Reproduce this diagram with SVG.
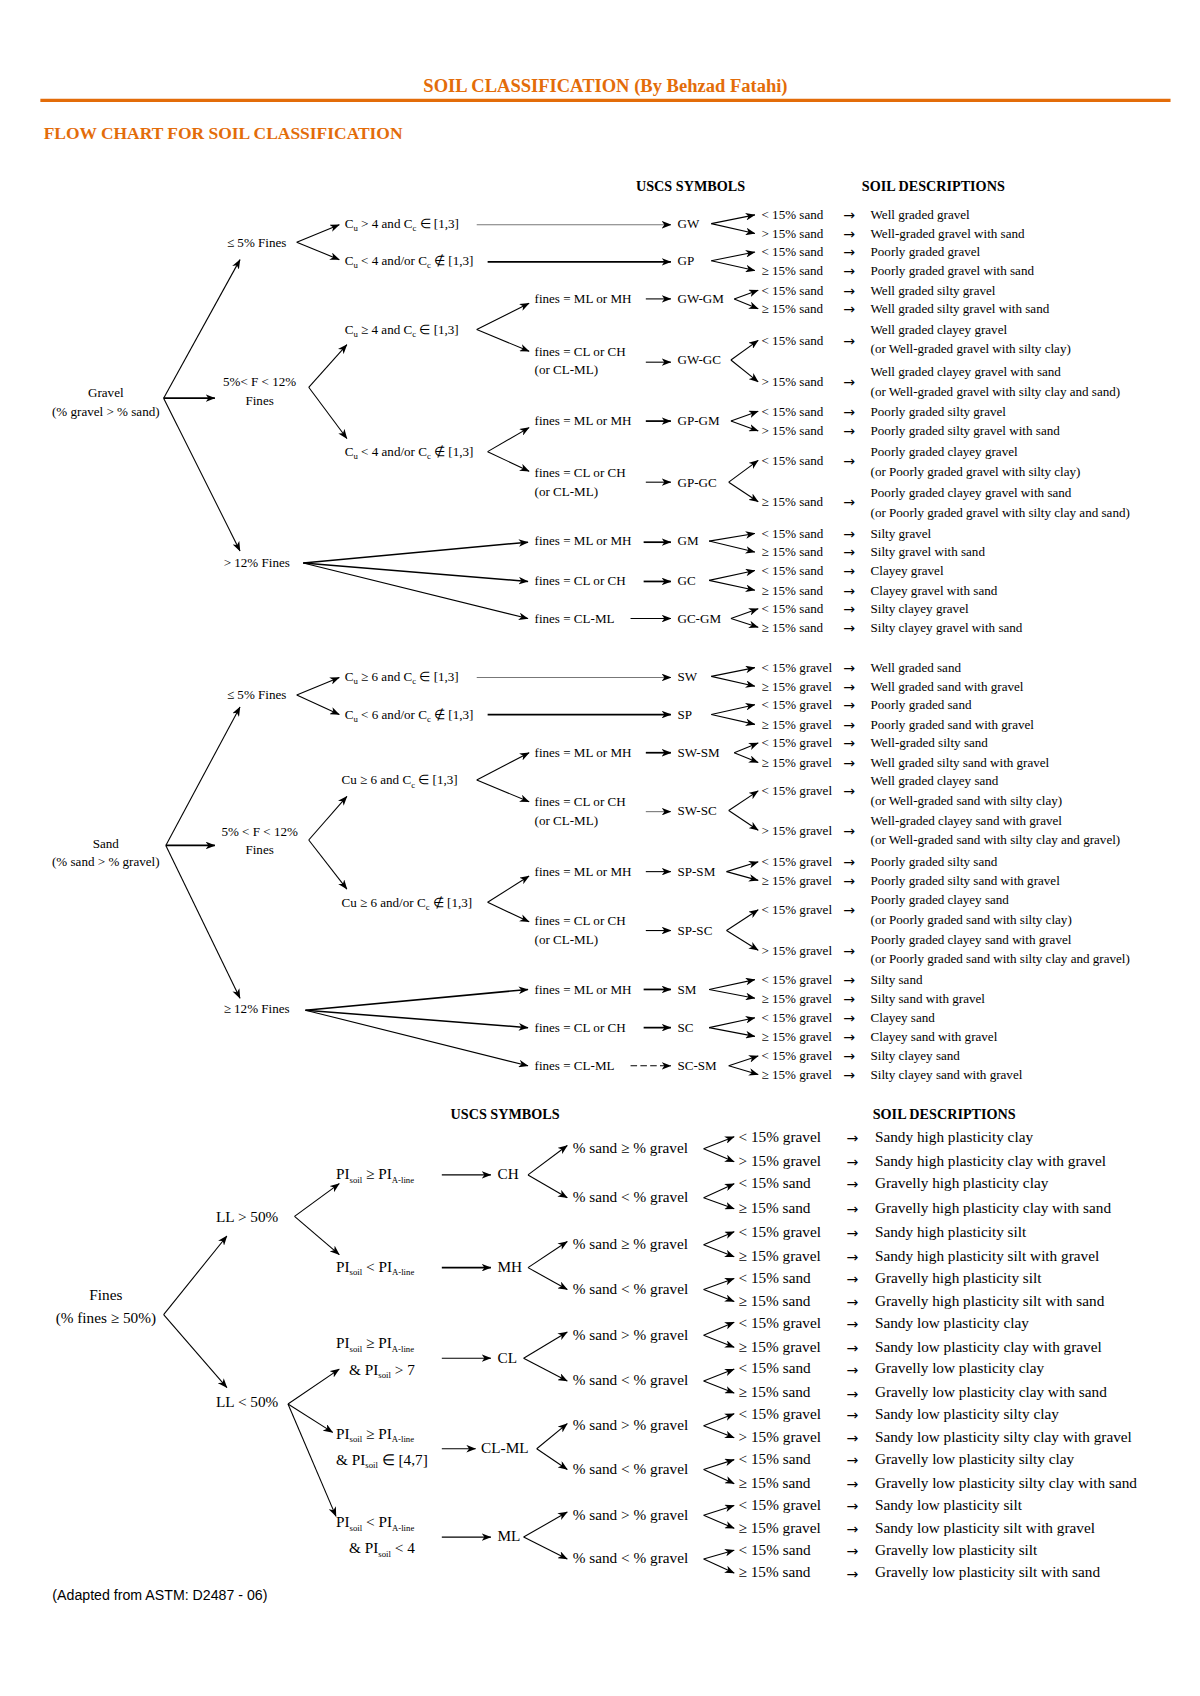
<svg xmlns="http://www.w3.org/2000/svg" width="1200" height="1696" viewBox="0 0 1200 1696">
<defs>
<marker id="ah" markerWidth="9" markerHeight="7" refX="8.5" refY="3.5" orient="auto" markerUnits="userSpaceOnUse"><path d="M0,0 L9,3.5 L0,7 L2.5,3.5 z" fill="#000"/></marker>
<style>
text{font-family:"Liberation Serif","Times New Roman",serif;fill:#000}
.t{font-size:12px}
.f{font-size:14px}
.c{text-anchor:middle}
.h{font-weight:bold;font-size:13px}
.o{fill:#e36c09;font-weight:bold}
.s{font-size:8px}
.r{font-family:"DejaVu Sans",sans-serif;font-size:13px}
line,polyline{stroke:#000;stroke-width:1;fill:none}
.a{marker-end:url(#ah)}
.sans{font-family:"Liberation Sans",Arial,sans-serif}
</style>
</defs>
<rect width="1200" height="1696" fill="#fff"/>
<g transform="scale(1.090909)">
<g id="title">
<text class="o c" x="555" y="84" font-size="17">SOIL CLASSIFICATION (By Behzad Fatahi)</text>
<line x1="37" y1="92" x2="1073" y2="92" style="stroke:#e36c09;stroke-width:3"/>
<text class="o" x="40" y="127" font-size="16">FLOW CHART FOR SOIL CLASSIFICATION</text>
<text class="h" x="583" y="175">USCS SYMBOLS</text>
<text class="h" x="790" y="175">SOIL DESCRIPTIONS</text>
<text class="h" x="413" y="1026" font-size="14">USCS SYMBOLS</text>
<text class="h" x="800" y="1026" font-size="14">SOIL DESCRIPTIONS</text>
<text class="sans" x="48" y="1467" font-size="13">(Adapted from ASTM: D2487 - 06)</text>
</g>

<g id="gravel" class="t">
<text class="t c" x="97" y="364">Gravel</text>
<text class="t c" x="97" y="381">(% gravel &gt; % sand)</text>
<text class="t" x="208" y="226">≤ 5% Fines</text>
<text class="t" x="316" y="209">C<tspan class="s" dy="3">u</tspan><tspan dy="-3"> &gt; 4 and C</tspan><tspan class="s" dy="3">c</tspan><tspan dy="-3"> ∈ [1,3]</tspan></text>
<text class="t" x="316" y="243">C<tspan class="s" dy="3">u</tspan><tspan dy="-3"> &lt; 4 and/or C</tspan><tspan class="s" dy="3">c</tspan><tspan dy="-3"> ∉ [1,3]</tspan></text>
<text class="t c" x="238" y="354">5%&lt; F &lt; 12%</text>
<text class="t c" x="238" y="371">Fines</text>
<text class="t" x="316" y="306">C<tspan class="s" dy="3">u</tspan><tspan dy="-3"> ≥ 4 and C</tspan><tspan class="s" dy="3">c</tspan><tspan dy="-3"> ∈ [1,3]</tspan></text>
<text class="t" x="316" y="418">C<tspan class="s" dy="3">u</tspan><tspan dy="-3"> &lt; 4 and/or C</tspan><tspan class="s" dy="3">c</tspan><tspan dy="-3"> ∉ [1,3]</tspan></text>
<text class="t" x="490" y="278">fines = ML or MH</text>
<text class="t" x="490" y="326">fines = CL or CH</text>
<text class="t" x="490" y="343">(or CL-ML)</text>
<text class="t" x="490" y="390">fines = ML or MH</text>
<text class="t" x="490" y="437">fines = CL or CH</text>
<text class="t" x="490" y="455">(or CL-ML)</text>
<text class="t" x="205" y="520">&gt; 12% Fines</text>
<text class="t" x="490" y="500">fines = ML or MH</text>
<text class="t" x="490" y="536">fines = CL or CH</text>
<text class="t" x="490" y="571">fines = CL-ML</text>
<text class="t" x="621" y="209">GW</text>
<text class="t" x="621" y="243">GP</text>
<text class="t" x="621" y="278">GW-GM</text>
<text class="t" x="621" y="334">GW-GC</text>
<text class="t" x="621" y="390">GP-GM</text>
<text class="t" x="621" y="446">GP-GC</text>
<text class="t" x="621" y="500">GM</text>
<text class="t" x="621" y="536">GC</text>
<text class="t" x="621" y="571">GC-GM</text>
</g>

<g id="sand" class="t">
<text class="t c" x="97" y="777">Sand</text>
<text class="t c" x="97" y="794">(% sand &gt; % gravel)</text>
<text class="t" x="208" y="641">≤ 5% Fines</text>
<text class="t" x="316" y="624">C<tspan class="s" dy="3">u</tspan><tspan dy="-3"> ≥ 6 and C</tspan><tspan class="s" dy="3">c</tspan><tspan dy="-3"> ∈ [1,3]</tspan></text>
<text class="t" x="316" y="659">C<tspan class="s" dy="3">u</tspan><tspan dy="-3"> &lt; 6 and/or C</tspan><tspan class="s" dy="3">c</tspan><tspan dy="-3"> ∉ [1,3]</tspan></text>
<text class="t c" x="238" y="766">5% &lt; F &lt; 12%</text>
<text class="t c" x="238" y="783">Fines</text>
<text class="t" x="313" y="719">Cu ≥ 6  and C<tspan class="s" dy="3">c</tspan><tspan dy="-3"> ∈ [1,3]</tspan></text>
<text class="t" x="313" y="831">Cu ≥ 6   and/or C<tspan class="s" dy="3">c</tspan><tspan dy="-3"> ∉ [1,3]</tspan></text>
<text class="t" x="490" y="694">fines = ML or MH</text>
<text class="t" x="490" y="739">fines = CL or CH</text>
<text class="t" x="490" y="756">(or CL-ML)</text>
<text class="t" x="490" y="803">fines = ML or MH</text>
<text class="t" x="490" y="848">fines = CL or CH</text>
<text class="t" x="490" y="865">(or CL-ML)</text>
<text class="t" x="205" y="929">≥ 12% Fines</text>
<text class="t" x="490" y="911">fines = ML or MH</text>
<text class="t" x="490" y="946">fines = CL or CH</text>
<text class="t" x="490" y="981">fines = CL-ML</text>
<text class="t" x="621" y="624">SW</text>
<text class="t" x="621" y="659">SP</text>
<text class="t" x="621" y="694">SW-SM</text>
<text class="t" x="621" y="747">SW-SC</text>
<text class="t" x="621" y="803">SP-SM</text>
<text class="t" x="621" y="857">SP-SC</text>
<text class="t" x="621" y="911">SM</text>
<text class="t" x="621" y="946">SC</text>
<text class="t" x="621" y="981">SC-SM</text>
</g>

<g id="coarse-descriptions" class="t">
<text x="698" y="201">&lt; 15% sand</text><text class="r" x="773" y="202">→</text><text x="798" y="201">Well graded gravel</text>
<text x="698" y="218">&gt; 15% sand</text><text class="r" x="773" y="219">→</text><text x="798" y="218">Well-graded gravel with sand</text>
<text x="698" y="235">&lt; 15% sand</text><text class="r" x="773" y="236">→</text><text x="798" y="235">Poorly graded gravel</text>
<text x="698" y="252">≥ 15% sand</text><text class="r" x="773" y="253">→</text><text x="798" y="252">Poorly graded gravel with sand</text>
<text x="698" y="270">&lt; 15% sand</text><text class="r" x="773" y="271">→</text><text x="798" y="270">Well graded silty gravel</text>
<text x="698" y="287">≥ 15% sand</text><text class="r" x="773" y="288">→</text><text x="798" y="287">Well graded silty gravel with sand</text>
<text x="698" y="316">&lt; 15% sand</text><text class="r" x="773" y="317">→</text><text x="798" y="306">Well graded clayey gravel</text><text x="798" y="324">(or Well-graded gravel with silty clay)</text>
<text x="698" y="354">&gt; 15% sand</text><text class="r" x="773" y="355">→</text><text x="798" y="345">Well graded clayey gravel with sand</text><text x="798" y="363">(or Well-graded gravel with silty clay and sand)</text>
<text x="698" y="381">&lt; 15% sand</text><text class="r" x="773" y="382">→</text><text x="798" y="381">Poorly graded silty gravel</text>
<text x="698" y="399">&gt; 15% sand</text><text class="r" x="773" y="400">→</text><text x="798" y="399">Poorly graded silty gravel with sand</text>
<text x="698" y="426">&lt; 15% sand</text><text class="r" x="773" y="427">→</text><text x="798" y="418">Poorly graded clayey gravel</text><text x="798" y="436">(or Poorly graded gravel with silty clay)</text>
<text x="698" y="464">≥ 15% sand</text><text class="r" x="773" y="465">→</text><text x="798" y="456">Poorly graded clayey gravel with sand</text><text x="798" y="474">(or Poorly graded gravel with silty clay and sand)</text>
<text x="698" y="493">&lt; 15% sand</text><text class="r" x="773" y="494">→</text><text x="798" y="493">Silty gravel</text>
<text x="698" y="510">≥ 15% sand</text><text class="r" x="773" y="511">→</text><text x="798" y="510">Silty gravel with sand</text>
<text x="698" y="527">&lt; 15% sand</text><text class="r" x="773" y="528">→</text><text x="798" y="527">Clayey gravel</text>
<text x="698" y="545">≥ 15% sand</text><text class="r" x="773" y="546">→</text><text x="798" y="545">Clayey gravel with sand</text>
<text x="698" y="562">&lt; 15% sand</text><text class="r" x="773" y="563">→</text><text x="798" y="562">Silty clayey gravel</text>
<text x="698" y="579">≥ 15% sand</text><text class="r" x="773" y="580">→</text><text x="798" y="579">Silty clayey gravel with sand</text>
<text x="698" y="616">&lt; 15% gravel</text><text class="r" x="773" y="617">→</text><text x="798" y="616">Well graded sand</text>
<text x="698" y="633">≥ 15% gravel</text><text class="r" x="773" y="634">→</text><text x="798" y="633">Well graded sand with gravel</text>
<text x="698" y="650">&lt; 15% gravel</text><text class="r" x="773" y="651">→</text><text x="798" y="650">Poorly graded sand</text>
<text x="698" y="668">≥ 15% gravel</text><text class="r" x="773" y="669">→</text><text x="798" y="668">Poorly graded sand with gravel</text>
<text x="698" y="685">&lt; 15% gravel</text><text class="r" x="773" y="686">→</text><text x="798" y="685">Well-graded silty sand</text>
<text x="698" y="703">≥ 15% gravel</text><text class="r" x="773" y="704">→</text><text x="798" y="703">Well graded silty sand with gravel</text>
<text x="698" y="729">&lt; 15% gravel</text><text class="r" x="773" y="730">→</text><text x="798" y="720">Well graded clayey sand</text><text x="798" y="738">(or Well-graded sand with silty clay)</text>
<text x="698" y="765">&gt; 15% gravel</text><text class="r" x="773" y="766">→</text><text x="798" y="756">Well-graded clayey sand with gravel</text><text x="798" y="774">(or Well-graded sand with silty clay and gravel)</text>
<text x="698" y="794">&lt; 15% gravel</text><text class="r" x="773" y="795">→</text><text x="798" y="794">Poorly graded silty sand</text>
<text x="698" y="811">≥ 15% gravel</text><text class="r" x="773" y="812">→</text><text x="798" y="811">Poorly graded silty sand with gravel</text>
<text x="698" y="838">&lt; 15% gravel</text><text class="r" x="773" y="839">→</text><text x="798" y="829">Poorly graded clayey sand</text><text x="798" y="847">(or Poorly graded sand with silty clay)</text>
<text x="698" y="875">&gt; 15% gravel</text><text class="r" x="773" y="876">→</text><text x="798" y="865">Poorly graded clayey sand with gravel</text><text x="798" y="883">(or Poorly graded sand with silty clay and gravel)</text>
<text x="698" y="902">&lt; 15% gravel</text><text class="r" x="773" y="903">→</text><text x="798" y="902">Silty sand</text>
<text x="698" y="919">≥ 15% gravel</text><text class="r" x="773" y="920">→</text><text x="798" y="919">Silty sand with gravel</text>
<text x="698" y="937">&lt; 15% gravel</text><text class="r" x="773" y="938">→</text><text x="798" y="937">Clayey sand</text>
<text x="698" y="954">≥ 15% gravel</text><text class="r" x="773" y="955">→</text><text x="798" y="954">Clayey sand with gravel</text>
<text x="698" y="972">&lt; 15% gravel</text><text class="r" x="773" y="973">→</text><text x="798" y="972">Silty clayey sand</text>
<text x="698" y="989">≥ 15% gravel</text><text class="r" x="773" y="990">→</text><text x="798" y="989">Silty clayey sand with gravel</text>
</g>

<g id="fines" class="f">
<text class="f c" x="97" y="1192">Fines</text>
<text class="f c" x="97" y="1213">(% fines ≥ 50%)</text>
<text class="f" x="198" y="1120">LL &gt; 50%</text>
<text class="f" x="198" y="1290">LL &lt; 50%</text>
<text class="f" x="308" y="1081">PI<tspan class="s" dy="3">soil</tspan><tspan dy="-3"> ≥ PI</tspan><tspan class="s" dy="3">A-line</tspan></text>
<text class="f" x="308" y="1166">PI<tspan class="s" dy="3">soil</tspan><tspan dy="-3"> &lt; PI</tspan><tspan class="s" dy="3">A-line</tspan></text>
<text class="f" x="308" y="1236">PI<tspan class="s" dy="3">soil</tspan><tspan dy="-3"> ≥ PI</tspan><tspan class="s" dy="3">A-line</tspan></text>
<text class="f" x="320" y="1260">&amp; PI<tspan class="s" dy="3">soil</tspan><tspan dy="-3"> &gt; 7</tspan></text>
<text class="f" x="308" y="1319">PI<tspan class="s" dy="3">soil</tspan><tspan dy="-3"> ≥ PI</tspan><tspan class="s" dy="3">A-line</tspan></text>
<text class="f" x="308" y="1343">&amp; PI<tspan class="s" dy="3">soil</tspan><tspan dy="-3"> ∈ [4,7]</tspan></text>
<text class="f" x="308" y="1400">PI<tspan class="s" dy="3">soil</tspan><tspan dy="-3"> &lt; PI</tspan><tspan class="s" dy="3">A-line</tspan></text>
<text class="f" x="320" y="1424">&amp; PI<tspan class="s" dy="3">soil</tspan><tspan dy="-3"> &lt; 4</tspan></text>
<text class="f" x="456" y="1081">CH</text>
<text class="f" x="456" y="1166">MH</text>
<text class="f" x="456" y="1249">CL</text>
<text class="f" x="441" y="1332">CL-ML</text>
<text class="f" x="456" y="1413">ML</text>
<text class="f" x="525" y="1057">% sand ≥ % gravel</text>
<text class="f" x="525" y="1102">% sand &lt; % gravel</text>
<text class="f" x="525" y="1145">% sand ≥ % gravel</text>
<text class="f" x="525" y="1186">% sand &lt; % gravel</text>
<text class="f" x="525" y="1228">% sand &gt; % gravel</text>
<text class="f" x="525" y="1270">% sand &lt; % gravel</text>
<text class="f" x="525" y="1311">% sand &gt; % gravel</text>
<text class="f" x="525" y="1351">% sand &lt; % gravel</text>
<text class="f" x="525" y="1393">% sand &gt; % gravel</text>
<text class="f" x="525" y="1433">% sand &lt; % gravel</text>
</g>

<g id="fine-descriptions" class="f">
<text x="677" y="1047">&lt; 15% gravel</text><text class="r" x="776" y="1048">→</text><text x="802" y="1047">Sandy high plasticity clay</text>
<text x="677" y="1069">&gt; 15% gravel</text><text class="r" x="776" y="1070">→</text><text x="802" y="1069">Sandy high plasticity clay with gravel</text>
<text x="677" y="1089">&lt; 15% sand</text><text class="r" x="776" y="1090">→</text><text x="802" y="1089">Gravelly high plasticity clay</text>
<text x="677" y="1112">≥ 15% sand</text><text class="r" x="776" y="1113">→</text><text x="802" y="1112">Gravelly high plasticity clay with sand</text>
<text x="677" y="1134">&lt; 15% gravel</text><text class="r" x="776" y="1135">→</text><text x="802" y="1134">Sandy high plasticity silt</text>
<text x="677" y="1156">≥ 15% gravel</text><text class="r" x="776" y="1157">→</text><text x="802" y="1156">Sandy high plasticity silt with gravel</text>
<text x="677" y="1176">&lt; 15% sand</text><text class="r" x="776" y="1177">→</text><text x="802" y="1176">Gravelly high plasticity silt</text>
<text x="677" y="1197">≥ 15% sand</text><text class="r" x="776" y="1198">→</text><text x="802" y="1197">Gravelly high plasticity silt with sand</text>
<text x="677" y="1217">&lt; 15% gravel</text><text class="r" x="776" y="1218">→</text><text x="802" y="1217">Sandy low plasticity clay</text>
<text x="677" y="1239">≥ 15% gravel</text><text class="r" x="776" y="1240">→</text><text x="802" y="1239">Sandy low plasticity clay with gravel</text>
<text x="677" y="1259">&lt; 15% sand</text><text class="r" x="776" y="1260">→</text><text x="802" y="1259">Gravelly low plasticity clay</text>
<text x="677" y="1281">≥ 15% sand</text><text class="r" x="776" y="1282">→</text><text x="802" y="1281">Gravelly low plasticity clay with sand</text>
<text x="677" y="1301">&lt; 15% gravel</text><text class="r" x="776" y="1302">→</text><text x="802" y="1301">Sandy low plasticity silty clay</text>
<text x="677" y="1322">&gt; 15% gravel</text><text class="r" x="776" y="1323">→</text><text x="802" y="1322">Sandy low plasticity silty clay with gravel</text>
<text x="677" y="1342">&lt; 15% sand</text><text class="r" x="776" y="1343">→</text><text x="802" y="1342">Gravelly low plasticity silty clay</text>
<text x="677" y="1364">≥ 15% sand</text><text class="r" x="776" y="1365">→</text><text x="802" y="1364">Gravelly low plasticity silty clay with sand</text>
<text x="677" y="1384">&lt; 15% gravel</text><text class="r" x="776" y="1385">→</text><text x="802" y="1384">Sandy low plasticity silt</text>
<text x="677" y="1405">≥ 15% gravel</text><text class="r" x="776" y="1406">→</text><text x="802" y="1405">Sandy low plasticity silt with gravel</text>
<text x="677" y="1425">&lt; 15% sand</text><text class="r" x="776" y="1426">→</text><text x="802" y="1425">Gravelly low plasticity silt</text>
<text x="677" y="1446">≥ 15% sand</text><text class="r" x="776" y="1447">→</text><text x="802" y="1446">Gravelly low plasticity silt with sand</text>
</g>

<g id="connectors">
<line class="a" x1="150" y1="365" x2="220" y2="238"/>
<line class="a" x1="150" y1="365" x2="197" y2="365" style="stroke-width:1.6"/>
<line class="a" x1="150" y1="365" x2="220" y2="505"/>
<line class="a" x1="272" y1="222" x2="311" y2="206"/>
<line class="a" x1="272" y1="222" x2="311" y2="238"/>
<line class="a" x1="437" y1="206" x2="615" y2="206" style="stroke:#777"/>
<line class="a" x1="447" y1="240" x2="615" y2="240" style="stroke-width:1.6"/>
<line class="a" x1="283" y1="355" x2="318" y2="316"/>
<line class="a" x1="283" y1="355" x2="318" y2="402"/>
<line class="a" x1="437" y1="302" x2="485" y2="278"/>
<line class="a" x1="437" y1="302" x2="485" y2="322"/>
<line class="a" x1="447" y1="414" x2="485" y2="392"/>
<line class="a" x1="447" y1="414" x2="485" y2="432"/>
<line class="a" x1="592" y1="274" x2="615" y2="274"/>
<line class="a" x1="592" y1="332" x2="615" y2="332"/>
<line class="a" x1="592" y1="386" x2="615" y2="386" style="stroke-width:1.6"/>
<line class="a" x1="592" y1="442" x2="615" y2="442"/>
<line class="a" x1="278" y1="516" x2="484" y2="497" style="stroke-width:1.4"/>
<line class="a" x1="278" y1="516" x2="484" y2="533" style="stroke-width:1.4"/>
<line class="a" x1="278" y1="516" x2="484" y2="567"/>
<line class="a" x1="590" y1="497" x2="615" y2="497" style="stroke-width:1.6"/>
<line class="a" x1="590" y1="533" x2="615" y2="533" style="stroke-width:1.6"/>
<line class="a" x1="578" y1="567" x2="615" y2="567"/>
<line class="a" x1="152" y1="775" x2="220" y2="648"/>
<line class="a" x1="152" y1="775" x2="197" y2="775" style="stroke-width:1.6"/>
<line class="a" x1="152" y1="775" x2="220" y2="915"/>
<line class="a" x1="272" y1="637" x2="311" y2="621"/>
<line class="a" x1="272" y1="637" x2="311" y2="655"/>
<line class="a" x1="437" y1="621" x2="615" y2="621" style="stroke:#777"/>
<line class="a" x1="447" y1="655" x2="615" y2="655" style="stroke-width:1.6"/>
<line class="a" x1="283" y1="770" x2="318" y2="730"/>
<line class="a" x1="283" y1="770" x2="318" y2="815"/>
<line class="a" x1="437" y1="715" x2="485" y2="690"/>
<line class="a" x1="437" y1="715" x2="485" y2="735"/>
<line class="a" x1="447" y1="827" x2="485" y2="803"/>
<line class="a" x1="447" y1="827" x2="485" y2="845"/>
<line class="a" x1="592" y1="690" x2="615" y2="690" style="stroke-width:1.6"/>
<line class="a" x1="592" y1="744" x2="615" y2="744" style="stroke:#777"/>
<line class="a" x1="592" y1="799" x2="615" y2="799"/>
<line class="a" x1="592" y1="853" x2="615" y2="853"/>
<line class="a" x1="280" y1="926" x2="484" y2="907" style="stroke-width:1.4"/>
<line class="a" x1="280" y1="926" x2="484" y2="942" style="stroke-width:1.4"/>
<line class="a" x1="280" y1="926" x2="484" y2="977"/>
<line class="a" x1="590" y1="907" x2="615" y2="907" style="stroke-width:1.6"/>
<line class="a" x1="590" y1="942" x2="615" y2="942" style="stroke-width:1.6"/>
<line class="a" x1="578" y1="977" x2="615" y2="977" style="stroke-dasharray:6 3"/>
<line class="a" x1="652" y1="205" x2="692" y2="197"/><line class="a" x1="652" y1="205" x2="692" y2="214"/>
<line class="a" x1="652" y1="239" x2="692" y2="231"/><line class="a" x1="652" y1="239" x2="692" y2="248"/>
<line class="a" x1="673" y1="274" x2="695" y2="266"/><line class="a" x1="673" y1="274" x2="695" y2="283"/>
<line class="a" x1="670" y1="330" x2="695" y2="312"/><line class="a" x1="670" y1="330" x2="695" y2="350"/>
<line class="a" x1="670" y1="386" x2="695" y2="377"/><line class="a" x1="670" y1="386" x2="695" y2="395"/>
<line class="a" x1="668" y1="442" x2="695" y2="422"/><line class="a" x1="668" y1="442" x2="695" y2="460"/>
<line class="a" x1="650" y1="496" x2="692" y2="489"/><line class="a" x1="650" y1="496" x2="692" y2="506"/>
<line class="a" x1="650" y1="532" x2="692" y2="523"/><line class="a" x1="650" y1="532" x2="692" y2="541"/>
<line class="a" x1="670" y1="567" x2="695" y2="558"/><line class="a" x1="670" y1="567" x2="695" y2="575"/>
<line class="a" x1="652" y1="620" x2="692" y2="612"/><line class="a" x1="652" y1="620" x2="692" y2="629"/>
<line class="a" x1="652" y1="655" x2="692" y2="646"/><line class="a" x1="652" y1="655" x2="692" y2="664"/>
<line class="a" x1="673" y1="690" x2="695" y2="681"/><line class="a" x1="673" y1="690" x2="695" y2="699"/>
<line class="a" x1="668" y1="743" x2="695" y2="725"/><line class="a" x1="668" y1="743" x2="695" y2="761"/>
<line class="a" x1="666" y1="799" x2="695" y2="790"/><line class="a" x1="666" y1="799" x2="695" y2="807"/>
<line class="a" x1="666" y1="853" x2="695" y2="834"/><line class="a" x1="666" y1="853" x2="695" y2="871"/>
<line class="a" x1="650" y1="907" x2="692" y2="898"/><line class="a" x1="650" y1="907" x2="692" y2="915"/>
<line class="a" x1="650" y1="942" x2="692" y2="933"/><line class="a" x1="650" y1="942" x2="692" y2="950"/>
<line class="a" x1="668" y1="977" x2="695" y2="968"/><line class="a" x1="668" y1="977" x2="695" y2="985"/>
<line class="a" x1="150" y1="1205" x2="208" y2="1133"/>
<line class="a" x1="150" y1="1205" x2="208" y2="1272"/>
<line class="a" x1="270" y1="1115" x2="311" y2="1085"/>
<line class="a" x1="270" y1="1115" x2="311" y2="1150"/>
<line class="a" x1="264" y1="1287" x2="311" y2="1255"/>
<line class="a" x1="264" y1="1287" x2="305" y2="1313"/>
<line class="a" x1="264" y1="1287" x2="308" y2="1390"/>
<line class="a" x1="405" y1="1077" x2="450" y2="1077"/>
<line class="a" x1="405" y1="1162" x2="450" y2="1162" style="stroke-width:1.4"/>
<line class="a" x1="405" y1="1245" x2="450" y2="1245"/>
<line class="a" x1="405" y1="1328" x2="436" y2="1328"/>
<line class="a" x1="405" y1="1409" x2="450" y2="1409"/>
<line class="a" x1="484" y1="1077" x2="520" y2="1050"/><line class="a" x1="484" y1="1077" x2="520" y2="1098"/>
<line class="a" x1="484" y1="1162" x2="520" y2="1138"/><line class="a" x1="484" y1="1162" x2="520" y2="1182"/>
<line class="a" x1="480" y1="1245" x2="520" y2="1221"/><line class="a" x1="480" y1="1245" x2="520" y2="1266"/>
<line class="a" x1="492" y1="1328" x2="520" y2="1305"/><line class="a" x1="492" y1="1328" x2="520" y2="1347"/>
<line class="a" x1="480" y1="1409" x2="520" y2="1386"/><line class="a" x1="480" y1="1409" x2="520" y2="1429"/>
<line class="a" x1="645" y1="1053" x2="673" y2="1042"/><line class="a" x1="645" y1="1053" x2="673" y2="1065"/>
<line class="a" x1="645" y1="1098" x2="673" y2="1085"/><line class="a" x1="645" y1="1098" x2="673" y2="1108"/>
<line class="a" x1="645" y1="1141" x2="673" y2="1129"/><line class="a" x1="645" y1="1141" x2="673" y2="1152"/>
<line class="a" x1="645" y1="1182" x2="673" y2="1172"/><line class="a" x1="645" y1="1182" x2="673" y2="1193"/>
<line class="a" x1="645" y1="1224" x2="673" y2="1212"/><line class="a" x1="645" y1="1224" x2="673" y2="1235"/>
<line class="a" x1="645" y1="1266" x2="673" y2="1255"/><line class="a" x1="645" y1="1266" x2="673" y2="1277"/>
<line class="a" x1="645" y1="1307" x2="673" y2="1296"/><line class="a" x1="645" y1="1307" x2="673" y2="1318"/>
<line class="a" x1="645" y1="1347" x2="673" y2="1338"/><line class="a" x1="645" y1="1347" x2="673" y2="1360"/>
<line class="a" x1="645" y1="1389" x2="673" y2="1380"/><line class="a" x1="645" y1="1389" x2="673" y2="1401"/>
<line class="a" x1="645" y1="1429" x2="673" y2="1421"/><line class="a" x1="645" y1="1429" x2="673" y2="1442"/>
</g>
</g>
</svg>
